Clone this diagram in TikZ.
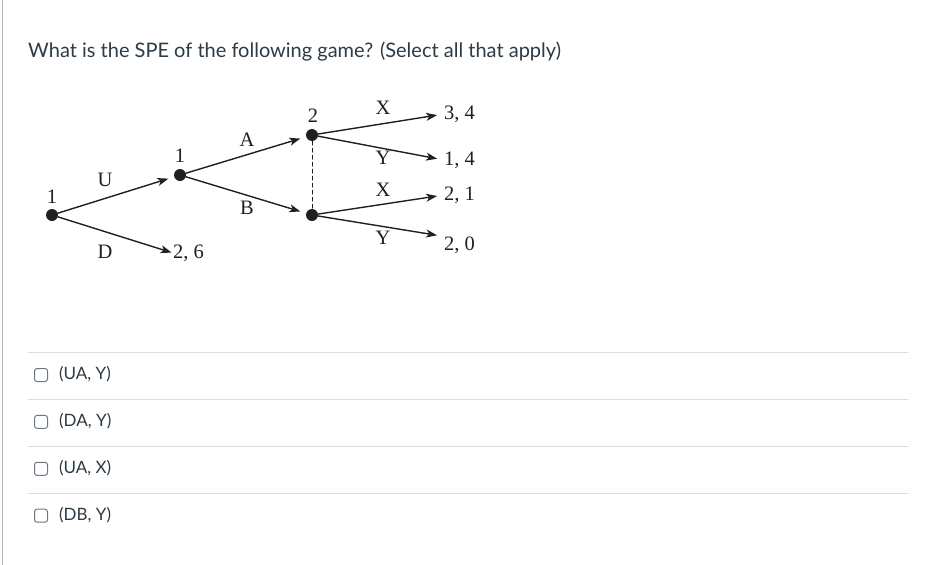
\documentclass[tikz,border=0pt]{standalone}
\usepackage{fontspec}
\setmainfont{Lato}
\newfontfamily\treefont{Liberation Serif}
\usetikzlibrary{arrows.meta}
\definecolor{canvastext}{HTML}{2D3B45}
\definecolor{treeblack}{HTML}{231F20}
\definecolor{rulegray}{HTML}{DDDDDD}
\definecolor{boxgray}{HTML}{6B7780}
\definecolor{sidegray}{HTML}{B5B5B5}
\begin{document}
\begin{tikzpicture}[x=1pt,y=-1pt,>={Stealth[length=11pt,width=8pt,inset=3pt]},
		line join=round, line cap=round,
		dot/.style={circle,fill=treeblack,inner sep=0pt,minimum size=12pt},
		lab/.style={font=\treefont\fontsize{20.5}{20.5}\selectfont,text=treeblack,inner sep=0pt},
		pay/.style={lab,anchor=west},
		branch/.style={->,draw=treeblack,line width=1.4pt,shorten >=6pt},
		opt/.style={font=\fontsize{17}{20}\selectfont,text=canvastext,anchor=base west,inner sep=0pt},
		chk/.style={draw=boxgray,line width=1pt,rounded corners=2.5pt,minimum size=13pt,inner sep=0pt}]
	\useasboundingbox (0,0) rectangle (932,565);
	\draw[sidegray,line width=1pt] (2.5,0)--(2.5,565);
	\node[anchor=base west,inner sep=0pt,text=canvastext,font=\fontsize{20}{24}\selectfont] (q) at (28,57) {What is the SPE of the following game? (Select all that apply)};
	% decision nodes
	\node[dot] (r) at (52,215) {};
	\node[dot] (m) at (180,175) {};
	\node[dot] (t) at (312,135) {};
	\node[dot] (b) at (312,215) {};
	\node[lab] (r1) at (52,197) {1};
	\node[lab] (m1) at (180,156) {1};
	\node[lab] (t2) at (313,116) {2};
	% payoffs
	\node[pay] (p26) at (173,253) {2, 6};
	\node[pay] (p34) at (444,114) {3, 4};
	\node[pay] (p14) at (444,160) {1, 4};
	\node[pay] (p21) at (444,195) {2, 1};
	\node[pay] (p20) at (444,245) {2, 0};
	% branches
	\draw[branch] (r)--(m);
	\draw[branch,shorten >=1.5pt] (r)--(p26.west);
	\draw[branch] (m)--(t);
	\draw[branch] (m)--(b);
	\draw[branch,shorten >=7pt] (t)--(p34.west);
	\draw[branch,shorten >=7pt] (t)--(p14.west);
	\draw[branch,shorten >=7pt] (b)--(p21.west);
	\draw[branch,shorten >=7pt] (b)--(p20.north west);
	\draw[treeblack,line width=0.9pt,dash pattern=on 4pt off 3pt] (t)--(b);
	% action labels
	\node[lab] (aU) at (105,180) {U};
	\node[lab] (aD) at (105,252) {D};
	\node[lab] (aA) at (247,140) {A};
	\node[lab] (aB) at (247,208) {B};
	\node[lab] (aX1) at (383,108) {X};
	\node[lab] (aY1) at (383,158) {Y};
	\node[lab] (aX2) at (383,190) {X};
	\node[lab] (aY2) at (383,238) {Y};
	% answer options
	\foreach \lbl [count=\i from 0] in {{(UA, Y)},{(DA, Y)},{(UA, X)},{(DB, Y)}}{
		\draw[rulegray,line width=1pt] (28,352.7+46.9*\i)--(908,352.7+46.9*\i);
		\node[chk] (box\i) at (41,375+46.9*\i) {};
		\node[opt] (opt\i) at (59,379.5+46.9*\i) {\lbl};
	}
\end{tikzpicture}
\end{document}
